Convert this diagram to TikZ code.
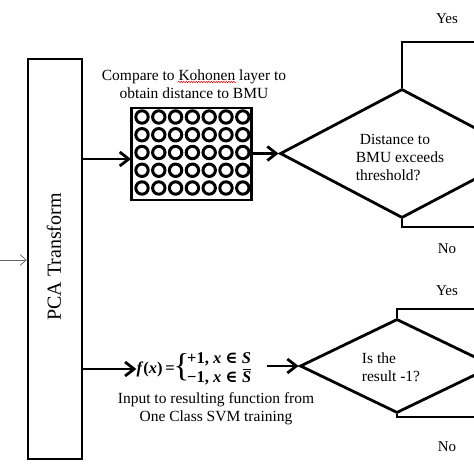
\documentclass[tikz,border=0pt]{standalone}
\usepackage{fontspec}
\setmainfont{Liberation Serif}
\newfontfamily\symfont{DejaVu Serif}
\usetikzlibrary{arrows.meta,shapes.geometric,decorations.pathmorphing}
\begin{document}
\begin{tikzpicture}[x=1pt,y=-1pt,
  thickln/.style={line width=2.8pt},
  arr/.style={thickln,-{Straight Barb[length=9pt,width=14pt]}},
  thinarr/.style={line width=0.7pt,draw=black!60,-{Straight Barb[length=6pt,width=11pt]}},
  pcabox/.style={draw,thickln,minimum width=54pt,minimum height=400pt,inner sep=0pt},
  gridbox/.style={draw,thickln,minimum width=120pt,minimum height=92pt,inner sep=0pt},
  dec/.style={draw,thickln,shape=diamond,inner sep=0pt},
  txt/.style={font=\fontsize{15.5}{18}\selectfont,inner sep=0pt},
  lbl/.style={font=\fontsize{15}{18}\selectfont,inner sep=0pt},
  frm/.style={font=\fontsize{16.5}{18}\selectfont\bfseries,inner sep=0pt,text height=11.5pt,text depth=3pt},
  dot/.style={draw,line width=3pt,circle,minimum size=12.4pt,inner sep=0pt}
]
\useasboundingbox (0,0) rectangle (474,474);
\clip (0,0) rectangle (474,474);
\fill[white] (0,0) rectangle (474,474);

% PCA block
\node[pcabox] (pca) at (55,259) {};
\node[rotate=90,inner sep=0pt,font=\fontsize{20}{24}\selectfont] (pcat) at (54,257) {PCA Transform};

% Kohonen grid
\node[gridbox] (grid) at (191.5,154) {};
\foreach \i in {0,...,6}{
  \foreach \j in {0,...,4}{
    \node[dot] (c\i\j) at ({142+16.8*\i},{117+17.75*\j}) {};
  }
}
\node[txt,align=center] (cap1) at (194,84) {Compare to Kohonen layer to\\obtain distance to BMU};
\draw[red,line width=0.5pt,decorate,decoration={snake,amplitude=0.7pt,segment length=2.5pt}] (178,82) -- (236,82);

% Decision 1
\node[dec,minimum width=244pt,minimum height=129pt] (d1) at (402,153.5) {};
\node[txt,align=left] (t1) at (400,157) {\hspace{4pt}Distance to\\BMU exceeds\\threshold?};

% Function
\node[frm,anchor=east] (fxa) at (175,369) {\textit{f}(\textit{x})\,=};
\node[inner sep=0pt,font=\fontsize{33}{33}\selectfont] (brc) at (181.5,367) {\{};
\node[frm,anchor=west] (r1) at (187,359) {+1, \textit{x} {\symfont\bfseries ∈} \textit{S}};
\node[frm,anchor=west] (r2a) at (187,378) {−1, \textit{x} {\symfont\bfseries ∈}};
\node[frm,anchor=west] (r2s) at ([xshift=4pt]r2a.east) {\textit{S}};
\draw[line width=1.2pt] ([xshift=1.5pt,yshift=0.8pt]r2s.north west) -- ([yshift=0.8pt]r2s.north east);
\node[txt,align=center] (cap2) at (216,409) {Input to resulting function from\\One Class SVM training};

% Decision 2
\node[dec,minimum width=194pt,minimum height=94pt] (d2) at (397,366) {};
\node[txt,align=left] (t2) at (391,367) {Is the\\result -1?};

% Labels
\node[lbl] (y1) at (447,19) {Yes};
\node[lbl] (n1) at (447,249) {No};
\node[lbl] (y2) at (447,291) {Yes};
\node[lbl] (n2) at (447,447) {No};

% Connectors
\coordinate (in) at (0,260);
\draw[thinarr] (in) -- (in -| pca.west);
\coordinate (g1) at (131,159);
\draw[arr] (pca.east |- g1) -- (g1);
\draw[arr] (grid.east |- d1.west) -- (d1.west);
\draw[arr] (pca.east |- fxa.west) -- (fxa.west);
\coordinate (f1) at (267,366);
\draw[arr] (f1) -- (d2.west);

\coordinate (e1) at (480,42);
\coordinate (e2) at (480,227);
\coordinate (e3) at (480,309);
\coordinate (e4) at (480,417);
\draw[thickln] (d1.north) |- (e1);
\draw[thickln] (d1.south) |- (e2);
\draw[thickln] (d2.north) |- (e3);
\draw[thickln] (d2.south) |- (e4);
\end{tikzpicture}
\end{document}
